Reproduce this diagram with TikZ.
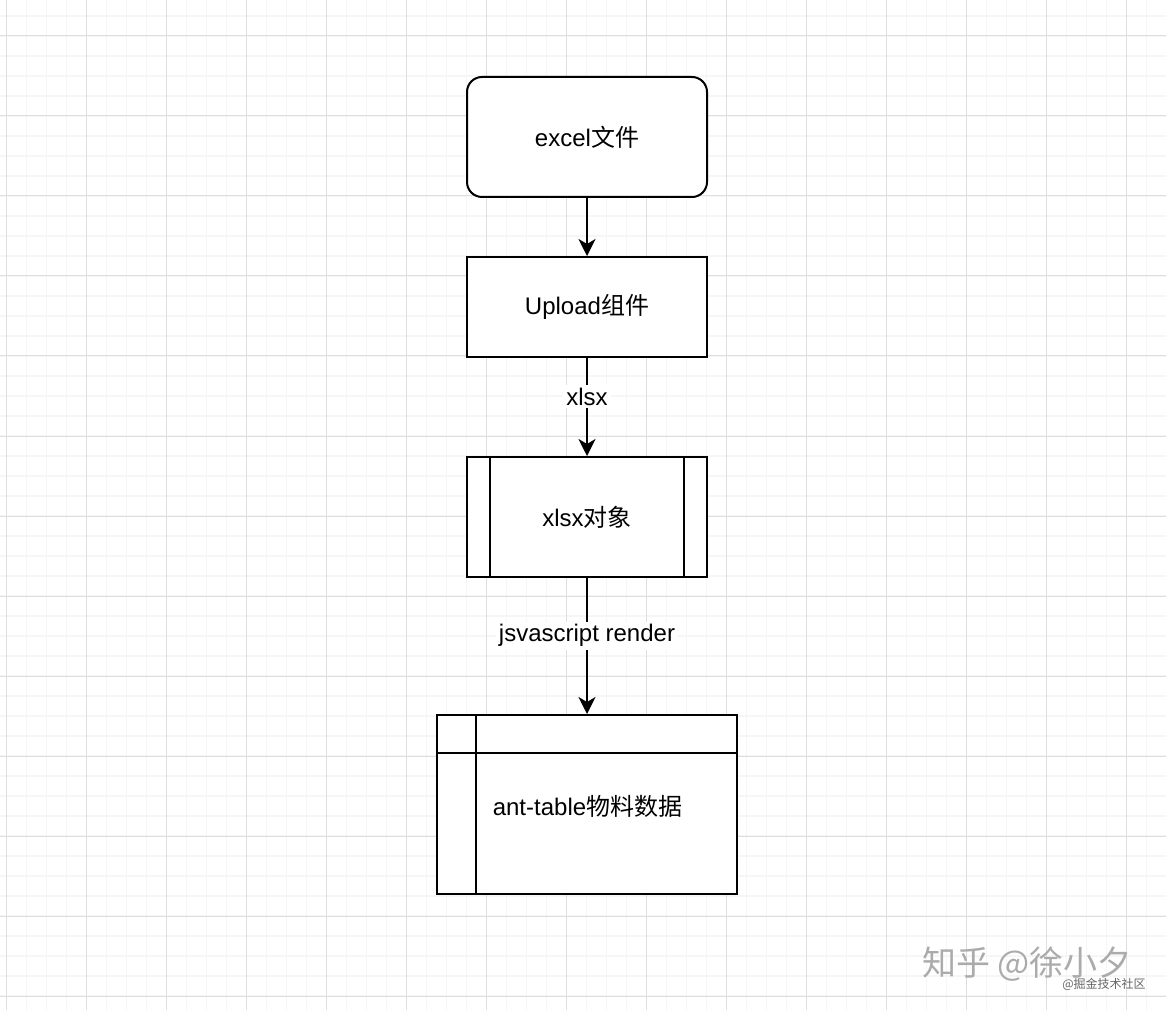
\documentclass[tikz,border=0pt]{standalone}
\usepackage{fontspec}
\setmainfont{Liberation Sans}
\newfontfamily\cjk{Noto Sans CJK SC}
\usetikzlibrary{arrows.meta,calc}
\tikzset{
  minorgrid/.style={draw=black!3.5, line width=0.8pt},
  majorgrid/.style={draw=black!13, line width=0.5pt},
  box/.style={draw=black, line width=1pt, fill=white, minimum width=120pt, inner sep=0pt,
    font=\fontsize{12}{14}\selectfont},
  inner/.style={draw=black, line width=1pt},
  arr/.style={draw=black, line width=1pt, -{Stealth[length=8.5pt,width=8.5pt,inset=2.5pt]}},
  lbl/.style={fill=white, inner sep=1.5pt, anchor=base, font=\fontsize{12}{14}\selectfont},
  wm/.style={text=black!33, font=\fontsize{17}{20}\selectfont},
  wmsmall/.style={text=black!60, font=\fontsize{6}{7}\selectfont}
}
\begin{document}
\begin{tikzpicture}[x=0.5pt,y=-0.5pt]
\useasboundingbox (0,0) rectangle (1166,1010);
\fill[white] (0,0) rectangle (1166,1010);
% grid
\foreach \x in {6.5,26.5,...,1166} \draw[minorgrid] (\x,0) -- (\x,1010);
\foreach \y in {16,36,...,1010} \draw[minorgrid] (0,\y) -- (1166,\y);
\foreach \x in {6.5,86.5,...,1166} \draw[majorgrid] (\x,0) -- (\x,1010);
\foreach \y in {36,116,...,1010} \draw[majorgrid] (0,\y) -- (1166,\y);

% nodes
\node[box, rounded corners=7.5pt, minimum height=60pt] (excel) at (587,137) {excel{\cjk 文件}};
\node[box, minimum height=50pt] (upload) at (587,307) {Upload{\cjk 组件}};
\node[box, minimum height=60pt] (obj) at (587,517) {xlsx{\cjk 对象}};
\draw[inner] ($(obj.north west)+(24,0)$) -- ($(obj.south west)+(24,0)$);
\draw[inner] ($(obj.north east)+(-24,0)$) -- ($(obj.south east)+(-24,0)$);
\node[box, minimum width=150pt, minimum height=89.5pt] (tbl) at (587,804.5) {};
\draw[inner] ($(tbl.north west)+(40,0)$) -- ($(tbl.south west)+(40,0)$);
\draw[inner] ($(tbl.north west)+(0,39)$) -- ($(tbl.north east)+(0,39)$);
\node[font=\fontsize{12}{14}\selectfont, anchor=base, inner sep=0pt] (tbltext) at (587.5,815) {ant-table{\cjk 物料数据}};

% connectors
\draw[arr] (excel) -- (upload);
\draw[arr] (upload) -- node[lbl, pos=0.48] (l1) {xlsx} (obj);
\draw[arr] (obj) -- node[lbl, pos=0.47] (l2) {jsvascript render} (tbl);

% watermark
\node[wm, anchor=base] (wm1) at (1027,975) {\cjk 知乎 @徐小夕};
\node[wmsmall, anchor=base] (wm2) at (1104,988) {\cjk @掘金技术社区};
\end{tikzpicture}
\end{document}
